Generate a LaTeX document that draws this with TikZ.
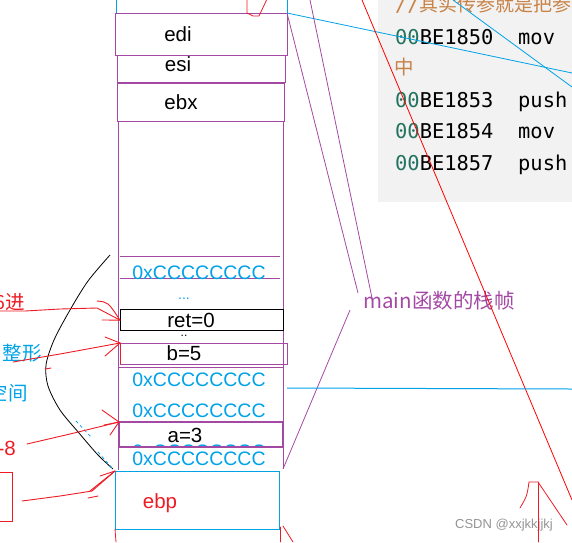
\documentclass[tikz,border=0pt]{standalone}
\usepackage{fontspec}
\setmainfont{Liberation Sans}
\newfontfamily\cjkf{Noto Sans CJK SC}
\newfontfamily\monof{DejaVu Sans Mono}
\definecolor{ppl}{RGB}{163,73,164}
\definecolor{blu}{RGB}{0,162,232}
\definecolor{rd}{RGB}{237,28,36}
\definecolor{codebg}{RGB}{242,242,242}
\definecolor{cmt}{RGB}{200,130,70}
\definecolor{addr}{RGB}{35,115,95}
\tikzset{
  pbox/.style={draw=ppl, line width=1pt, anchor=north west, inner sep=0, outer sep=0},
  bbox/.style={draw=blu, line width=1pt, anchor=north west, inner sep=0, outer sep=0},
  lab/.style={font=\fontsize{20.5}{24}\selectfont, inner sep=0},
  hex/.style={font=\fontsize{19.5}{23}\selectfont, text=blu, inner sep=0},
  codet/.style={font=\monof\fontsize{20.4}{24}\selectfont, inner sep=0, anchor=base west},
  cjk/.style={font=\cjkf\fontsize{19.5}{23}\selectfont, inner sep=0},
  hand/.style={draw=rd, line width=0.9pt, line join=round, line cap=round},
  thin/.style={line width=0.8pt},
}
\begin{document}
\begin{tikzpicture}[x=1pt,y=-1pt]
\useasboundingbox (0,0) rectangle (572,542);
% code panel
\node[fill=codebg, anchor=north west, minimum width=200, minimum height=202, inner sep=0] (codebox) at (378,0) {};
\node[codet, text=cmt] (cmt) at (395,11) {//{\cjkf\fontsize{19}{23}\selectfont 其实传参就是把参数}};
\node[codet] (l1) at (395,44) {\textcolor{addr}{00}BE1850};
\node[codet] (m1) at (518,44) {mov};
\node[cjk, text=cmt] (zh) at (404,67) {中};
\node[codet] (l2) at (395,107) {\textcolor{addr}{00}BE1853};
\node[codet] (m2) at (518,107) {push};
\node[codet] (l3) at (395,138) {\textcolor{addr}{00}BE1854};
\node[codet] (m3) at (518,138) {mov};
\node[codet] (l4) at (395,170) {\textcolor{addr}{00}BE1857};
\node[codet] (m4) at (518,170) {push};

% stack boxes
\node[bbox, minimum width=171, minimum height=16] (top) at (116,-3) {};
\node[pbox, minimum width=172, minimum height=42] (edi) at (115,13) {};
\node[pbox, minimum width=168, minimum height=27] (esi) at (117,55) {};
\node[pbox, minimum width=167, minimum height=38] (ebx) at (117,83) {};
\coordinate (fl1) at (118,121); \coordinate (fl2) at (118,470);
\coordinate (fr1) at (283,121); \coordinate (fr2) at (283,469);
\draw[ppl, line width=1pt] (fl1) -- (fl2);
\draw[ppl, line width=1pt] (fr1) -- (fr2);
\coordinate (h1a) at (120,256); \coordinate (h1b) at (280,256);
\coordinate (h2a) at (120,278); \coordinate (h2b) at (280,278);
\draw[ppl, thin] (h1a) -- (h1b);
\draw[ppl, thin] (h2a) -- (h2b);
\node[anchor=north west, draw=black, line width=1.2pt, minimum width=163, minimum height=21, inner sep=0] (ret) at (120,309) {};
\node[pbox, minimum width=167, minimum height=21] (bb) at (120,343) {};
\coordinate (h3a) at (119,367); \coordinate (h3b) at (283,367);
\draw[ppl, line width=1pt] (h3a) -- (h3b);
\begin{scope}
  \clip (119,440) rectangle (283,446);
  \node[hex] (hexfrag) at (199,452) {0xCCCCCCCC};
\end{scope}
\node[pbox, line width=1.6pt, minimum width=164, minimum height=25] (aa) at (119,422) {};
\node[bbox, minimum width=164, minimum height=58] (ebp) at (115,471) {};

% stack texts
\node[lab] (tedi) at (178,34) {edi};
\node[lab] (tesi) at (178,64) {esi};
\node[lab] (tebx) at (181,102) {ebx};
\node[hex] (hex1) at (199,273) {0xCCCCCCCC};
\node[font=\fontsize{14}{16}\selectfont, text=blu, inner sep=0] (dots) at (184,299) {...};
\node[lab] (tret) at (191,320) {ret=0};
\node[font=\fontsize{12}{14}\selectfont, inner sep=0] (dd) at (184,336) {..};
\node[lab] (tb) at (184,353) {b=5};
\node[hex] (hex2) at (199,380) {0xCCCCCCCC};
\node[hex] (hex3) at (199,411) {0xCCCCCCCC};
\node[lab] (ta) at (185,435) {a=3};
\node[hex] (hex4) at (199,459) {0xCCCCCCCC};
\node[lab, text=rd] (tebp) at (160,503) {ebp};

% left labels
\node[cjk, text=rd, anchor=east] (t16) at (25,302) {16进};
\node[cjk, text=blu, anchor=east] (tint) at (42,353) {整形};
\node[cjk, text=blu, anchor=east] (tsp) at (28,393) {空间};
\node[lab, text=rd, anchor=east] (tm8) at (16,448) {-8};
\node[draw=rd, line width=1pt, anchor=north west, minimum width=16, minimum height=49, inner sep=0] (rbox) at (-4,472) {};

% main frame label
\node[font=\cjkf\fontsize{20.5}{24}\selectfont, text=ppl, inner sep=0] (mainlbl) at (439,301) {main函数的栈帧};
\node[font=\fontsize{13}{15}\selectfont, text=black!42, inner sep=0] (wm) at (504,525) {CSDN @xxjkkjjkj};

% long lines
\coordinate (bl1e) at (572,73);
\coordinate (bl2s) at (453,0); \coordinate (bl2e) at (572,87);
\coordinate (rls) at (362,0); \coordinate (rle) at (572,500);
\coordinate (pAe) at (358,293);
\coordinate (pBs) at (310,0); \coordinate (pBe) at (372,298);
\coordinate (pCs) at (350,310);
\coordinate (bhs) at (287,388); \coordinate (bhe) at (572,389);
\draw[blu, thin] (edi.north east) -- (bl1e);
\draw[blu, thin] (bl2s) -- (bl2e);
\draw[red, thin] (rls) -- (rle);
\draw[ppl, thin] (edi.north east) -- (pAe);
\draw[ppl, thin] (pBs) -- (pBe);
\draw[ppl, thin] (pCs) -- (fr2);
\draw[blu, line width=1pt] (bhs) -- (bhe);

% black bracket curve
\draw[black, thin] plot[smooth] coordinates {(110,255) (88,281) (70,310) (54,340) (46,365) (48,386) (60,410) (79,433) (98,455) (113,469)};
\draw[blu, thin, dashed] (76,421) -- (91,437);
\draw[blu, thin, dashed] (98,452) -- (113,469);

% red hand arrows
\draw[hand] (0,311) -- (25,311) -- (60,309) -- (97,308) -- (ret.west);
\draw[hand] (97,301) .. controls (108,302) .. (ret.west);
\draw[hand] (102,320) -- (ret.west);
\draw[hand] (13,362) -- (60,354) -- (bb.north west);
\draw[hand] (105,337) -- (bb.north west);
\draw[hand] (105,356) -- (bb.north west);
\draw[hand] (bb.north west) -- (bb.south west);
\draw[hand] (45,369) -- (51,368);
\draw[hand] (27,444) -- (70,434) -- (aa.north west);
\draw[hand] (102,410) -- (aa.north west);
\draw[hand] (110,435) -- (aa.north west);
\draw[hand] (104,425) -- (aa.north west);
\draw[hand] (22,501) -- (60,496) -- (92,491) -- (ebp.north west);
\draw[hand] (90,491) -- (ebp.north west);
\draw[hand] (100,476) -- (ebp.north west);
\draw[hand] (88,498) -- (98,496);

% red scribbles
\coordinate (sc1) at (247,-1); \coordinate (sc2) at (267,-1);
\draw[hand, thin] (sc1) -- (247,13) -- (253,16) -- (259,16) -- (sc2);
\coordinate (rb1) at (116,542); \coordinate (rb2) at (280,527); \coordinate (rb3) at (280,542);
\coordinate (rd1) at (283,526); \coordinate (rd2) at (293,542);
\draw[hand, thin] (ebp.south west) -- (rb1);
\draw[hand, thin] (rb2) -- (rb3);
\draw[hand, thin] (rd1) -- (rd2);
\coordinate (ta1) at (538,482); \coordinate (ta2) at (538,542);
\draw[hand, thin] (ta1) -- (ta2);
\draw[hand, thin] (520,508) .. controls (527,496) .. (529,482) -- (ta1) -- (567,525);
\end{tikzpicture}
\end{document}
